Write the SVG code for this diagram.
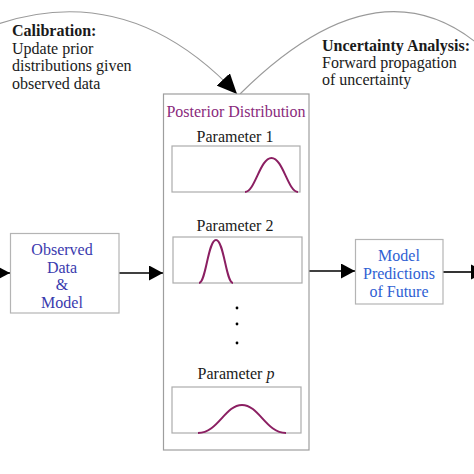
<svg xmlns="http://www.w3.org/2000/svg" width="474" height="474" viewBox="0 0 474 474">
<style>
text{font-family:"Liberation Serif","Times New Roman",serif;font-size:16px;fill:#1a1a1a}
.b{font-weight:bold}
.c{text-anchor:middle}
.obs{fill:#3a3aae}
.pred{fill:#2f5fd3}
.post{fill:#8a2a7c}
.box{fill:#fff;stroke:#b4b4b4;stroke-width:1.2}
.big{fill:#fff;stroke:#9e9e9e;stroke-width:1.2}
.inner{fill:#fff;stroke:#acacac;stroke-width:1.2}
.pdf{fill:none;stroke:#8b1f62;stroke-width:2}
.arc{fill:none;stroke:#9a9a9a;stroke-width:1.1}
.ln{fill:none;stroke:#000;stroke-width:1.6}
</style>
<defs>
<marker id="ah" markerWidth="14" markerHeight="15" refX="14" refY="7.5" orient="auto" markerUnits="userSpaceOnUse">
<path d="M0,0 L14,7.5 L0,15 Z" fill="#000"/>
</marker>
<marker id="ah2" markerWidth="20" markerHeight="18" refX="20" refY="9" orient="auto" markerUnits="userSpaceOnUse">
<path d="M0,0 L20,9 L0,18 Z" fill="#000"/>
</marker>
</defs>
<rect width="474" height="474" fill="#fff"/>

<g id="connectors">
<path class="arc" d="M-2,24 Q130,-20 237,94" marker-end="url(#ah2)"/>
<path class="arc" d="M240,94 Q375,-40 478,44"/>
<path class="ln" d="M-10,273 L10,273" marker-end="url(#ah)"/>
<path class="ln" d="M119,273 L163,273" marker-end="url(#ah)"/>
<path class="ln" d="M309,271 L355,271" marker-end="url(#ah)"/>
<path class="ln" d="M443,272 L474,272"/>
<path d="M471,264.5 L485,272 L471,279.5 Z" fill="#000"/>
</g>

<g id="calibration-label">
<text x="12" y="36" class="b">Calibration:</text>
<text x="12" y="53.5">Update prior</text>
<text x="12" y="71">distributions given</text>
<text x="12" y="88.5">observed data</text>
</g>

<g id="uncertainty-label">
<text x="322" y="51" class="b">Uncertainty Analysis:</text>
<text x="322" y="68">Forward propagation</text>
<text x="322" y="85">of uncertainty</text>
</g>

<g id="observed">
<rect class="box" x="10.5" y="233.5" width="108.5" height="79.5"/>
<text x="62" y="255" class="c obs">Observed</text>
<text x="62" y="272.5" class="c obs">Data</text>
<text x="62" y="290" class="c obs">&amp;</text>
<text x="62" y="308" class="c obs">Model</text>
</g>

<g id="posterior">
<rect class="big" x="163.5" y="94" width="145.5" height="356"/>
<text x="236" y="117" class="c post">Posterior Distribution</text>
<g id="param1">
<text x="235" y="142" class="c">Parameter 1</text>
<rect class="inner" x="172" y="146" width="128" height="46"/>
<path class="pdf" d="M245,192 C255,192 260,158 271.5,158 C283,158 288,192 298,192"/>
</g>
<g id="param2">
<text x="235" y="231" class="c">Parameter 2</text>
<rect class="inner" x="173" y="237" width="129" height="46"/>
<path class="pdf" d="M199,283 C206,283 208,240 216,240 C224,240 226,283 233,283"/>
</g>
<g id="dots" fill="#000">
<circle cx="237" cy="308" r="1.4"/>
<circle cx="237" cy="324" r="1.4"/>
<circle cx="237" cy="343" r="1.4"/>
</g>
<g id="paramp">
<text x="236" y="379" class="c">Parameter <tspan font-style="italic">p</tspan></text>
<rect class="inner" x="172" y="387" width="129" height="46"/>
<path class="pdf" d="M198,433 C218,433 225,405 242,405 C259,405 266,433 286,433"/>
</g>
</g>

<g id="predictions">
<rect class="box" x="355.5" y="239.5" width="87.5" height="64.5"/>
<text x="399" y="261" class="c pred">Model</text>
<text x="399" y="279" class="c pred">Predictions</text>
<text x="399" y="297" class="c pred">of Future</text>
</g>
</svg>
